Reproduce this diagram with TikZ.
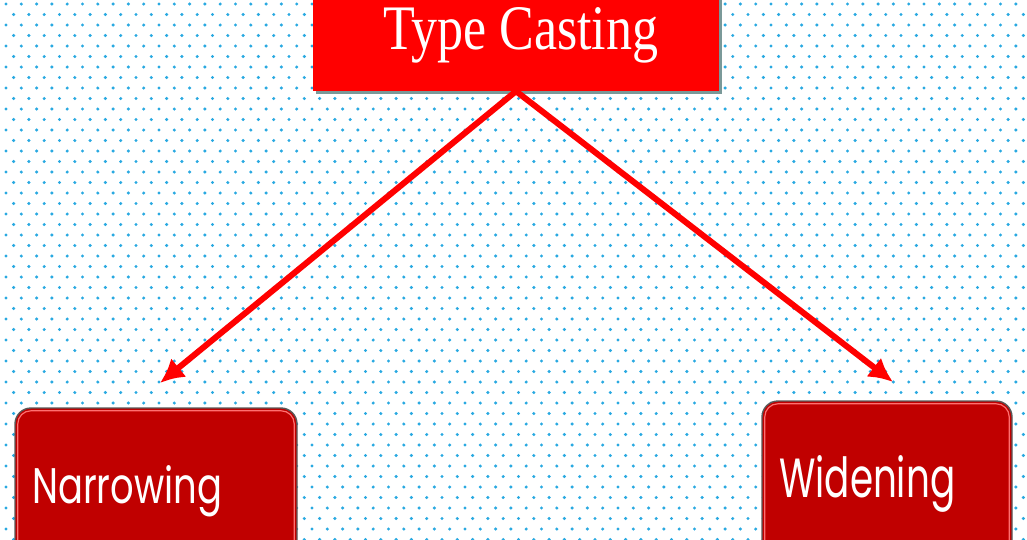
\documentclass[tikz,border=0pt]{standalone}
\usepackage{fontspec}
\setmainfont{Liberation Serif}
\newfontfamily\boxfont{Poppins}
\usepackage{tikz}
\usetikzlibrary{arrows.meta, shadows}
\definecolor{dotblue}{HTML}{29A9E1}
\definecolor{castred}{HTML}{FF0000}
\definecolor{kindred}{HTML}{C00000}
\definecolor{hilite}{HTML}{FF7070}
\tikzset{
  castbox/.style={fill=castred, inner sep=0pt, minimum width=406, minimum height=122,
    drop shadow={shadow xshift=2.5pt, shadow yshift=-2.5pt, fill=gray!70!teal, opacity=0.8}},
  kindbox/.style={fill=kindred, draw=black!65, line width=1.4pt, rounded corners=16pt, inner sep=0pt},
  kindline/.style={draw=hilite, line width=1.2pt, rounded corners=13pt},
  castarrow/.style={draw=castred, line width=6pt, -{Latex[length=24pt,width=24pt]}},
  lbl/.style={inner sep=0pt, text=white}
}

\begin{document}
\begin{tikzpicture}[x=1pt, y=-1pt]
  \useasboundingbox (0,0) rectangle (1027,539);
  \clip (0,0) rectangle (1027,539);
  % dotted background
  \foreach \r in {0,...,51}{
    \pgfmathsetmacro{\yy}{4+10.5*\r}
    \pgfmathsetmacro{\xo}{ifthenelse(mod(\r,2)==0,6,13.6)}
    \foreach \c in {0,...,67}{
      \fill[dotblue] ({\xo+15.3*\c},\yy) circle[radius=1.7pt];
    }
  }
  % boxes
  \node[castbox] (tc) at (516,30) {};
  \node[lbl, anchor=base west] (tclbl) at (383,49) {\resizebox{275pt}{42pt}{Type Casting}};
  \node[kindbox, minimum width=282, minimum height=170] (nar) at (156,493) {};
  \node[kindbox, minimum width=250, minimum height=170] (wid) at (887,486) {};
  \draw[kindline] ([shift={(3.5pt,-3.5pt)}]nar.north west) rectangle ([shift={(-3.5pt,3.5pt)}]nar.south east);
  \draw[kindline] ([shift={(3.5pt,-3.5pt)}]wid.north west) rectangle ([shift={(-3.5pt,3.5pt)}]wid.south east);
  \node[lbl, anchor=base west] (narlbl) at (32,503) {\resizebox{190pt}{38pt}{\boxfont Narrowing}};
  \node[lbl, anchor=base west] (widlbl) at (779,497) {\resizebox{176pt}{42pt}{\boxfont Widening}};
  % arrows
  \coordinate (narend) at (160,383);
  \coordinate (widend) at (893,382);
  \draw[castarrow] (tc.south) -- (narend);
  \draw[castarrow] (tc.south) -- (widend);
\end{tikzpicture}
\end{document}
